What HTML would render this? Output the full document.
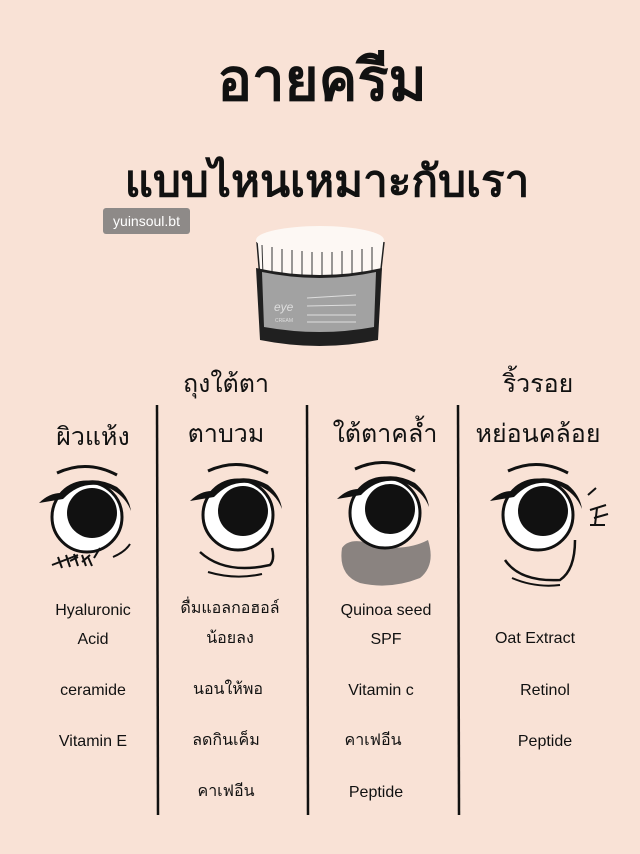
<!DOCTYPE html>
<html><head><meta charset="utf-8"><style>
body{margin:0;width:640px;height:854px;background:#f9e2d6;position:relative;overflow:hidden;font-family:"Liberation Sans","Noto Sans CJK SC",sans-serif;color:#111}
.t{position:absolute;white-space:nowrap;transform:translateX(-50%);line-height:1}
.h{font-size:25px}
.l{font-size:16px}
</style></head><body>
<div class="t" style="left:322px;top:52px;font-size:58px;font-weight:bold">อายครีม</div>
<div class="t" style="left:327px;top:160px;font-size:44px;font-weight:bold">แบบไหนเหมาะกับเรา</div>
<div style="position:absolute;left:103px;top:208px;width:87px;height:26px;background:#8e8a88;border-radius:3px;color:#fff;font-size:14px;line-height:26px;text-align:center">yuinsoul.bt</div>
<svg style="position:absolute;left:0;top:0" width="640" height="854">
<defs>
<g id="e">
<circle cx="0" cy="0" r="35" fill="#fff" stroke="#111" stroke-width="3"/>
<circle cx="5" cy="-4" r="25" fill="#111"/>
<path d="M-48 -14 Q-38 -24 -26 -24 Q0 -46 30 -30 Q42 -20 44 -6 Q38 -22 20 -30 Q-5 -38 -24 -18 Q-36 -16 -48 -14 Z" fill="#111"/>
<path d="M-30 -44 Q0 -58 30 -42" stroke="#111" stroke-width="3" fill="none"/>
</g>
</defs>
<!-- jar -->
<path d="M257 242 L260 278 Q320 288 380 278 L384 242" fill="#fdf8f4" stroke="#222" stroke-width="1.5"/>
<ellipse cx="320" cy="240" rx="64" ry="14" fill="#fdf8f4"/>
<g stroke="#333" stroke-width="1">
<line x1="262" y1="245" x2="263" y2="276"/><line x1="272" y1="247" x2="272" y2="278"/><line x1="282" y1="249" x2="282" y2="279"/><line x1="292" y1="250" x2="292" y2="280"/><line x1="302" y1="251" x2="302" y2="281"/><line x1="312" y1="252" x2="312" y2="281"/><line x1="322" y1="252" x2="322" y2="281"/><line x1="332" y1="252" x2="332" y2="281"/><line x1="342" y1="251" x2="342" y2="281"/><line x1="352" y1="250" x2="352" y2="280"/><line x1="362" y1="249" x2="362" y2="279"/><line x1="372" y1="247" x2="372" y2="278"/></g>
<path d="M256 268 Q320 282 382 268 L378 340 Q320 352 260 340 Z" fill="#202020"/>
<path d="M262 272 Q320 284 376 272 L374 327 Q320 337 264 327 Z" fill="#a2a2a2"/>
<g stroke="#ddd" stroke-width="1"><line x1="307" y1="298" x2="356" y2="295"/><line x1="307" y1="306" x2="356" y2="305"/><line x1="307" y1="315" x2="356" y2="315"/><line x1="307" y1="322" x2="356" y2="322"/></g>
<text x="274" y="311" font-size="12" fill="#ddd" font-style="italic">eye</text>
<text x="275" y="322" font-size="5" fill="#ddd">CREAM</text>
<!-- dividers -->
<g stroke="#111" stroke-width="2.5"><line x1="157" y1="405" x2="158" y2="815"/><line x1="307" y1="405" x2="308" y2="815"/><line x1="458" y1="405" x2="459" y2="815"/></g>
<!-- dark circle -->
<path d="M342 548 Q350 536 375 545 Q405 552 428 540 Q436 565 420 578 Q390 590 360 583 Q338 575 342 548Z" fill="#8a8380"/>
<use href="#e" x="87" y="517"/><use href="#e" x="238" y="515"/><use href="#e" x="385" y="513"/><use href="#e" x="538" y="515"/>
<g stroke="#111" stroke-width="2" fill="none">
<path d="M113 557 Q125 552 130 544"/>
<path d="M52 565 L78 555 M58 557 L62 568 M66 555 L70 567 M74 554 L78 566 M82 555 L86 566 M88 557 L92 566 M94 558 L100 548 M82 562 L90 555 M70 561 L78 557"/>
<path d="M200 552 Q225 575 270 565 Q275 560 272 548" stroke-width="2.5"/>
<path d="M208 572 Q235 580 262 574"/>
<path d="M505 560 Q520 582 560 580 Q575 570 575 540" stroke-width="2.5"/>
<path d="M512 578 Q535 588 560 585"/>
<path d="M590 510 L606 505 M594 518 L608 514 M590 525 L605 525 M597 508 L595 525 M588 495 L596 488"/>
</g>
</svg>
<div class="t h" style="left:93px;top:425px">ผิวแห้ง</div>
<div class="t h" style="left:226px;top:372px">ถุงใต้ตา</div>
<div class="t h" style="left:226px;top:422px">ตาบวม</div>
<div class="t h" style="left:385px;top:422px">ใต้ตาคล้ำ</div>
<div class="t h" style="left:538px;top:372px">ริ้วรอย</div>
<div class="t h" style="left:538px;top:422px">หย่อนคล้อย</div>
<div class="t l" style="left:93px;top:603px">Hyaluronic</div>
<div class="t l" style="left:93px;top:632px">Acid</div>
<div class="t l" style="left:93px;top:683px">ceramide</div>
<div class="t l" style="left:93px;top:734px">Vitamin E</div>
<div class="t l" style="left:230px;top:601px">ดื่มแอลกอฮอล์</div>
<div class="t l" style="left:230px;top:631px">น้อยลง</div>
<div class="t l" style="left:228px;top:682px">นอนให้พอ</div>
<div class="t l" style="left:226px;top:733px">ลดกินเค็ม</div>
<div class="t l" style="left:226px;top:784px">คาเฟอีน</div>
<div class="t l" style="left:386px;top:603px">Quinoa seed</div>
<div class="t l" style="left:386px;top:632px">SPF</div>
<div class="t l" style="left:381px;top:683px">Vitamin c</div>
<div class="t l" style="left:373px;top:733px">คาเฟอีน</div>
<div class="t l" style="left:376px;top:785px">Peptide</div>
<div class="t l" style="left:535px;top:631px">Oat Extract</div>
<div class="t l" style="left:545px;top:683px">Retinol</div>
<div class="t l" style="left:545px;top:734px">Peptide</div>
</body></html>
